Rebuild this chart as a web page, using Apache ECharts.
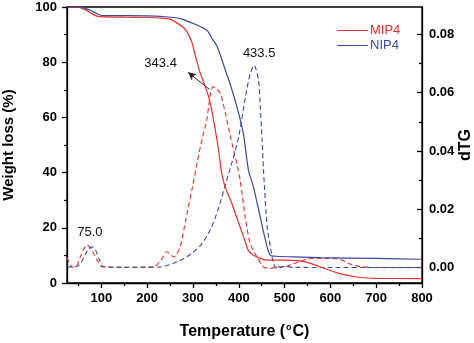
<!DOCTYPE html>
<html>
<head>
<meta charset="utf-8">
<script src="https://cdn.jsdelivr.net/npm/echarts@6/dist/echarts.min.js"></script>
<style>
  html, body { margin: 0; padding: 0; background: #fff; }
  #chart { width: 474px; height: 343px; }
</style>
</head>
<body>
<div id="chart"></div>
<script>
// Temperature axis ticks
const tempTicks = [100, 200, 300, 400, 500, 600, 700, 800];
const tempMinorTicks = [50, 150, 250, 350, 450, 550, 650, 750];
const dtgTicks = [0, 0.02, 0.04, 0.06, 0.08];
const dtgMinorTicks = [0.01, 0.03, 0.05, 0.07];

// MIP4 weight loss (%) vs temperature (°C)
const mip4TgT = [25, 50, 60, 70, 80, 92, 105, 150, 200, 230, 250, 262, 276, 287, 298, 305, 315, 325, 335, 345, 356, 363, 372, 385, 395, 403, 412, 421, 430, 440, 454, 480, 520, 550, 578, 620, 665, 700, 800];
const mip4Tg  = [100, 99.9, 99.3, 98.6, 97.5, 96.6, 96.4, 96.3, 96.2, 96.0, 95.6, 94.5, 93.0, 91.0, 87.0, 82.5, 76.5, 72.0, 67.0, 59.0, 48.0, 39.5, 34.0, 28.8, 24.0, 20.3, 16.0, 11.8, 10.2, 9.4, 8.5, 8.3, 8.2, 7.5, 5.8, 3.4, 2.0, 1.7, 1.6];

// NIP4 weight loss (%) vs temperature (°C)
const nip4TgT = [25, 54, 65, 76, 88, 98, 110, 200, 229, 272, 301, 320, 331, 342, 352, 363, 372, 381, 396, 410, 421, 432, 440, 447, 454, 462, 469, 480, 534, 578, 700, 800];
const nip4Tg  = [100, 100, 99.5, 98.8, 97.8, 97.0, 96.9, 96.8, 96.6, 95.8, 94.0, 92.6, 91.5, 88.5, 86.0, 81.0, 76.5, 72.2, 63.8, 54.1, 41.0, 34.8, 29.0, 23.9, 18.5, 13.0, 10.0, 9.7, 9.4, 9.2, 8.9, 8.6];

// MIP4 dTG vs temperature (°C)
const mip4DtgT = [25, 36, 45, 55, 62, 68.7, 76, 84, 92, 101, 150, 214, 230, 243, 258, 272, 284, 299, 310, 321, 330, 338, 343.4, 352, 360, 371, 382, 396, 403, 414, 425, 440, 454, 469, 483, 500, 520, 534, 550, 580, 615, 650, 690, 800];
const mip4Dtg  = [0.0035, 0.0002, 0.0004, 0.004, 0.0065, 0.0077, 0.0068, 0.0045, 0.0022, 0.0003, 0.0001, 0.0002, 0.0025, 0.0054, 0.0036, 0.0071, 0.0162, 0.0277, 0.0368, 0.0448, 0.0505, 0.0595, 0.0620, 0.0612, 0.0597, 0.0528, 0.0448, 0.0355, 0.0300, 0.0174, 0.0082, 0.0036, 0.0002, -0.0003, 0.0002, 0.0003, 0.0014, 0.0020, 0.0030, 0.0031, 0.0030, 0.0008, 0.0000, 0.0000];

// NIP4 dTG vs temperature (°C)
const nip4DtgT = [25, 45, 55, 65, 72, 79.6, 88, 96, 105, 150, 229, 258, 287, 316, 338, 355, 370, 385, 400, 415, 425, 433.5, 443, 447, 451, 454, 462, 469, 476, 484, 500, 520, 600, 700, 800];
const nip4Dtg  = [0.0002, 0.0003, 0.0015, 0.0045, 0.0064, 0.0071, 0.0058, 0.0025, 0.0003, 0.0001, 0.0002, 0.0015, 0.0037, 0.0075, 0.0130, 0.0200, 0.0280, 0.0360, 0.0450, 0.0590, 0.0665, 0.0694, 0.0643, 0.0551, 0.0437, 0.0334, 0.0139, 0.0071, 0.0014, -0.0003, 0.0004, 0.0001, 0.0000, 0.0000, 0.0000];

// Peak annotations
const lowPeak = { t: 75.0, text: '75.0' };
const mip4Peak = { t: 343.4, text: '343.4' };
const nip4Peak = { t: 433.5, text: '433.5' };

const RED = '#e8302c';
const BLUE = '#3a4a9c';
const FONT = "'Liberation Sans', Arial, sans-serif";

function pairs(xs, ys) { return xs.map((x, i) => [x, ys[i]]); }
function valueAt(xs, ys, x) { return ys[xs.indexOf(x)]; }

const chart = echarts.init(document.getElementById('chart'), null, { renderer: 'canvas' });

const axisLineStyle = { color: '#000', width: 1.3 };
const tickLabel = { color: '#000', fontFamily: FONT, fontWeight: 'bold', fontSize: 13 };

chart.setOption({
  animation: false,
  backgroundColor: '#fff',
  grid: {
    left: 67, right: 52, top: 7, bottom: 60,
    outerBoundsMode: 'none', containLabel: false,
    show: true, borderColor: '#000', borderWidth: 1.3
  },
  legend: {
    orient: 'vertical', left: 332, top: 19, itemWidth: 31, itemHeight: 1, itemGap: 2,
    icon: 'rect',
    textStyle: { fontFamily: FONT, fontSize: 13, padding: [0, 0, 0, -3] },
    data: [
      { name: 'MIP4', textStyle: { color: RED } },
      { name: 'NIP4', textStyle: { color: BLUE } }
    ]
  },
  xAxis: [
    {
      type: 'value', min: 25, max: 800,
      name: '{t|Temperature (}{s|o}{t|C)}', nameLocation: 'middle', nameGap: 40,
      nameMoveOverlap: false,
      nameTextStyle: { rich: {
        t: { fontFamily: FONT, fontWeight: 'bold', fontSize: 16, color: '#000' },
        s: { fontFamily: FONT, fontWeight: 'bold', fontSize: 9, color: '#000', verticalAlign: 'top', padding: [0, 1, 8, 1] }
      } },
      axisLine: { onZero: false, lineStyle: axisLineStyle },
      axisTick: { customValues: tempTicks, length: 5, lineStyle: axisLineStyle },
      axisLabel: Object.assign({ customValues: tempTicks, margin: 9 }, tickLabel),
      splitLine: { show: false }
    },
    {
      type: 'value', min: 25, max: 800, position: 'bottom',
      axisLine: { show: false, onZero: false },
      axisTick: { customValues: tempMinorTicks, length: 3, lineStyle: axisLineStyle },
      axisLabel: { show: false },
      splitLine: { show: false }
    }
  ],
  yAxis: [
    {
      type: 'value', min: 0, max: 100, interval: 20, position: 'left',
      name: 'Weight loss (%)', nameLocation: 'middle', nameGap: 51, nameRotate: 90,
      nameMoveOverlap: false,
      nameTextStyle: { fontFamily: FONT, fontWeight: 'bold', fontSize: 15, color: '#000' },
      axisLine: { show: true, onZero: false, lineStyle: axisLineStyle },
      axisTick: { length: 5, lineStyle: axisLineStyle },
      minorTick: { show: true, splitNumber: 2, length: 3, lineStyle: axisLineStyle },
      axisLabel: Object.assign({ margin: 10 }, tickLabel),
      splitLine: { show: false }
    },
    {
      type: 'value', min: -0.0053, max: 0.0894, position: 'right',
      name: 'dTG', nameLocation: 'middle', nameGap: 36, nameRotate: 90,
      nameMoveOverlap: false,
      nameTextStyle: { fontFamily: FONT, fontWeight: 'bold', fontSize: 16, color: '#000' },
      axisLine: { show: true, onZero: false, lineStyle: axisLineStyle },
      axisTick: { inside: true, customValues: dtgTicks, length: 5, lineStyle: axisLineStyle },
      axisLabel: Object.assign({ customValues: dtgTicks, margin: 7, formatter: v => v.toFixed(2) }, tickLabel),
      splitLine: { show: false }
    },
    {
      type: 'value', min: -0.0053, max: 0.0894, position: 'right',
      axisLine: { show: false, onZero: false },
      axisTick: { inside: true, customValues: dtgMinorTicks, length: 3, lineStyle: axisLineStyle },
      axisLabel: { show: false },
      splitLine: { show: false }
    }
  ],
  series: [
    {
      name: 'MIP4', type: 'line', xAxisIndex: 0, yAxisIndex: 0,
      data: pairs(mip4TgT, mip4Tg), showSymbol: false, symbol: 'none', smooth: 0.25,
      lineStyle: { color: RED, width: 1.2 }, itemStyle: { color: RED }, z: 3
    },
    {
      name: 'NIP4', type: 'line', xAxisIndex: 0, yAxisIndex: 0,
      data: pairs(nip4TgT, nip4Tg), showSymbol: false, symbol: 'none', smooth: 0.25,
      lineStyle: { color: BLUE, width: 1.2 }, itemStyle: { color: BLUE }, z: 3
    },
    {
      name: 'MIP4 dTG', type: 'line', xAxisIndex: 0, yAxisIndex: 1,
      data: pairs(mip4DtgT, mip4Dtg), showSymbol: false, symbol: 'none', smooth: 0.25,
      lineStyle: { color: RED, width: 1.1, type: [5, 3] }, itemStyle: { color: RED }, z: 2,
      markPoint: {
        symbol: 'circle', symbolSize: 0,
        label: { show: true, fontFamily: FONT, fontSize: 13, color: '#111', position: 'inside' },
        data: [
          { coord: [lowPeak.t, 0.0121], value: lowPeak.text, label: { formatter: lowPeak.text } },
          { coord: [mip4Peak.t - 114, 0.0700], value: mip4Peak.text, label: { formatter: mip4Peak.text } }
        ]
      },
      markLine: {
        silent: true, symbol: ['none', 'arrow'], symbolSize: [6, 8],
        lineStyle: { color: '#222', width: 1, type: 'solid' },
        label: { show: false },
        data: [[
          { coord: [mip4Peak.t - 8, valueAt(mip4DtgT, mip4Dtg, mip4Peak.t) - 0.0008] },
          { coord: [mip4Peak.t - 54, 0.0670] }
        ]]
      }
    },
    {
      name: 'NIP4 dTG', type: 'line', xAxisIndex: 0, yAxisIndex: 1,
      data: pairs(nip4DtgT, nip4Dtg), showSymbol: false, symbol: 'none', smooth: 0.25,
      lineStyle: { color: BLUE, width: 1.1, type: [5, 3] }, itemStyle: { color: BLUE }, z: 2,
      markPoint: {
        symbol: 'circle', symbolSize: 0,
        label: { show: true, fontFamily: FONT, fontSize: 13, color: '#111', position: 'inside' },
        data: [
          { coord: [nip4Peak.t + 11, valueAt(nip4DtgT, nip4Dtg, nip4Peak.t) + 0.0040], value: nip4Peak.text, label: { formatter: nip4Peak.text } }
        ]
      }
    }
  ]
});
</script>
</body>
</html>
